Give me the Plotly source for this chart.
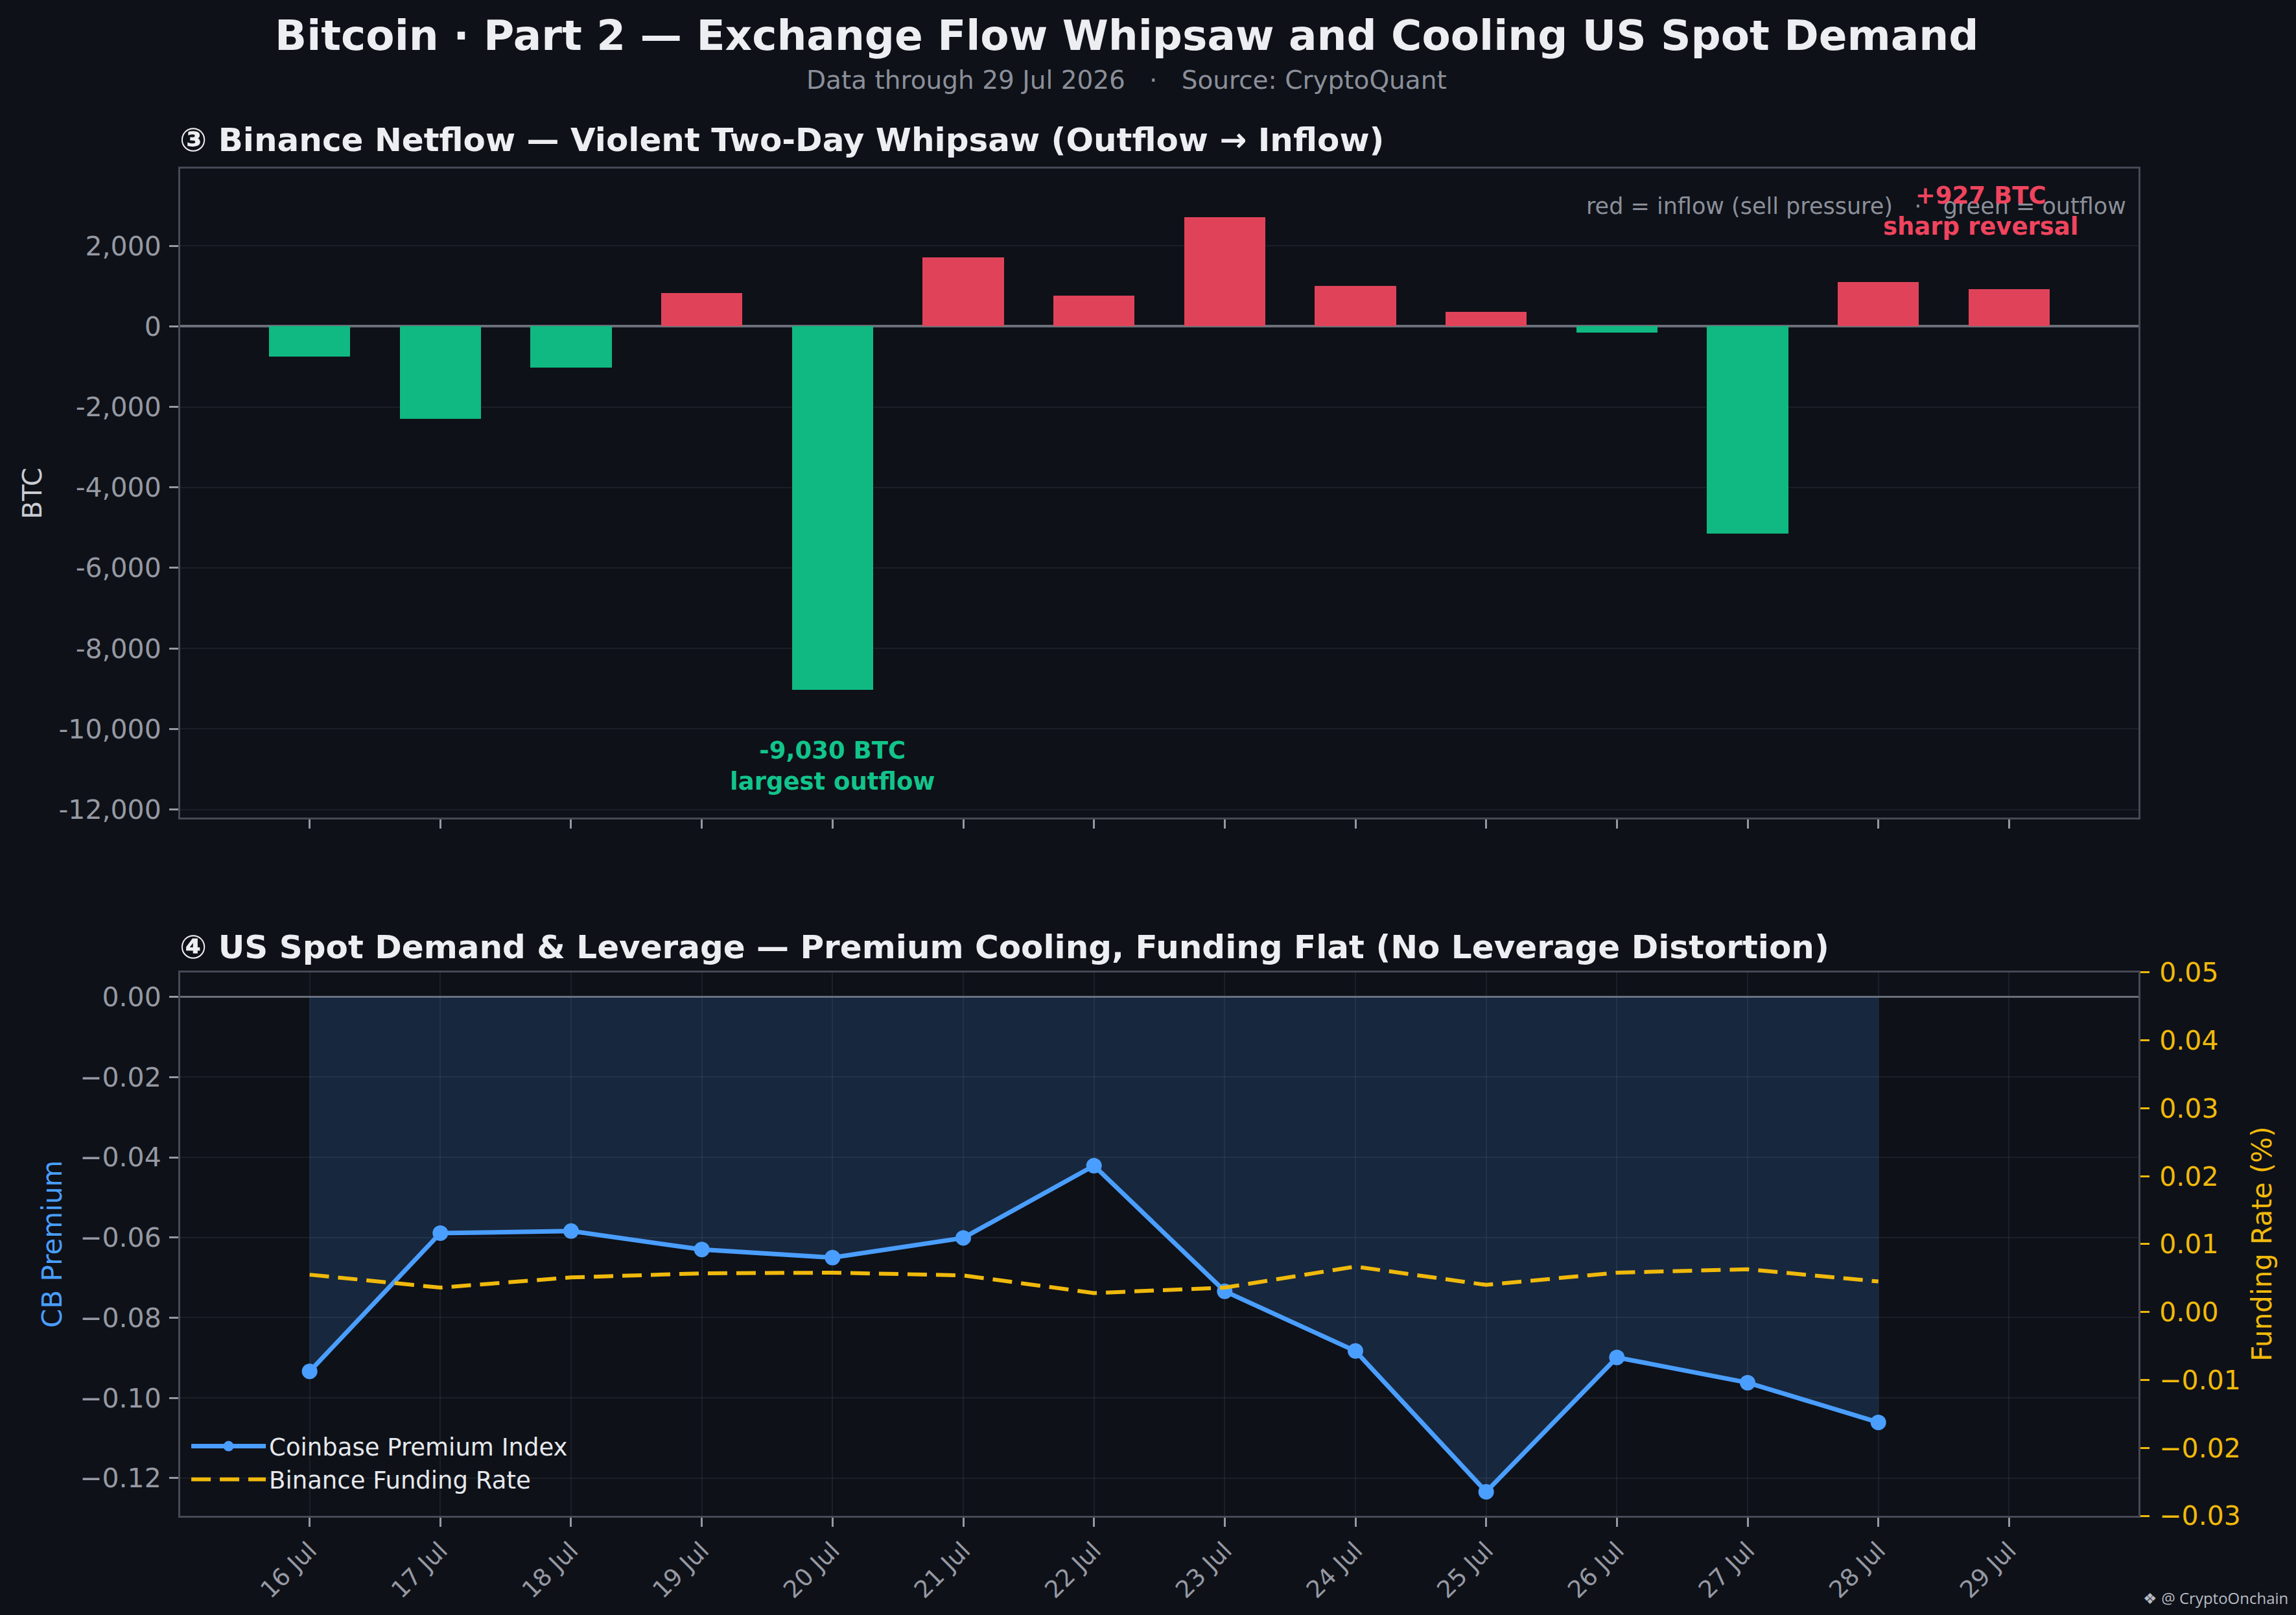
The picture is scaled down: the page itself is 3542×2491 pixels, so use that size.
import plotly.graph_objects as go
from plotly.subplots import make_subplots

# --- data ---
dates = ["16 Jul", "17 Jul", "18 Jul", "19 Jul", "20 Jul", "21 Jul", "22 Jul",
         "23 Jul", "24 Jul", "25 Jul", "26 Jul", "27 Jul", "28 Jul", "29 Jul"]
netflow_btc = [-750, -2290, -1030, 830, -9030, 1710, 760,
               2710, 1005, 360, -150, -5150, 1105, 927]

premium_dates = dates[:13]
cb_premium = [-0.0934, -0.0589, -0.0584, -0.0630, -0.0650, -0.0601, -0.0421,
              -0.0734, -0.0883, -0.1234, -0.0899, -0.0962, -0.1061]
funding_rate = [0.0055, 0.0036, 0.0051, 0.0057, 0.0058, 0.0054, 0.0028,
                0.0036, 0.0067, 0.0040, 0.0058, 0.0063, 0.0045]

netflow_ticks = [2000, 0, -2000, -4000, -6000, -8000, -10000, -12000]
netflow_ticktext = ["2,000", "0", "-2,000", "-4,000", "-6,000", "-8,000", "-10,000", "-12,000"]

BG = "#0e1118"
RED = "#e04359"
GREEN = "#10b981"
BLUE = "#4a9eff"
GOLD = "#f0b90b"
GRID = "rgba(54,58,70,0.35)"
SPINE = "#474a55"
TICK = "#9699a3"
FONT = "DejaVu Sans"

fig = make_subplots(rows=2, cols=1, shared_xaxes=True,
                    specs=[[{}], [{"secondary_y": True}]])

bar_colors = [RED if v > 0 else GREEN for v in netflow_btc]
fig.add_trace(go.Bar(x=dates, y=netflow_btc, marker_color=bar_colors,
                     marker_line_width=0, width=0.62, showlegend=False),
              row=1, col=1)

# shaded area between premium and zero
fig.add_trace(go.Scatter(x=premium_dates, y=cb_premium, fill="tozeroy",
                         fillcolor="rgba(74,158,255,0.16)", mode="none",
                         showlegend=False, hoverinfo="skip"),
              row=2, col=1, secondary_y=False)
fig.add_trace(go.Scatter(x=premium_dates, y=cb_premium, mode="lines+markers",
                         name="Coinbase Premium Index",
                         line=dict(color=BLUE, width=7),
                         marker=dict(color=BLUE, size=24)),
              row=2, col=1, secondary_y=False)
fig.add_trace(go.Scatter(x=premium_dates, y=funding_rate, mode="lines",
                         name="Binance Funding Rate",
                         line=dict(color=GOLD, width=6, dash="30px,14px")),
              row=2, col=1, secondary_y=True)

axis_common = dict(showline=True, linecolor=SPINE, linewidth=3, mirror=True,
                   ticks="outside", ticklen=14, tickwidth=3, tickcolor=TICK,
                   tickfont=dict(family=FONT, size=41, color=TICK))

fig.update_xaxes(range=[-0.99, 13.99], categoryorder="array", categoryarray=dates,
                 **axis_common)
fig.update_xaxes(showgrid=False, row=1, col=1)
fig.update_xaxes(showgrid=True, gridcolor=GRID, gridwidth=2, tickangle=-45,
                 tickfont=dict(family=FONT, size=37, color=TICK), row=2, col=1)

fig.update_layout(
    width=3542, height=2491,
    paper_bgcolor=BG, plot_bgcolor=BG,
    margin=dict(l=278, r=243, t=260, b=153),
    font=dict(family=FONT, color="#e6e8ec"),
    bargap=0,
    xaxis=dict(domain=[0, 1]),
    xaxis2=dict(domain=[0, 1]),
    yaxis=dict(domain=[0.5183, 1], range=[-12200, 3920],
               tickvals=netflow_ticks, ticktext=netflow_ticktext,
               showgrid=True, gridcolor=GRID, gridwidth=2,
               zeroline=True, zerolinecolor="#6b6f7a", zerolinewidth=4,
               ticklabelstandoff=4, **axis_common),
    yaxis2=dict(domain=[0, 0.4033], range=[-0.1294, 0.0061],
                tickvals=[0, -0.02, -0.04, -0.06, -0.08, -0.10, -0.12],
                tickformat=".2f", showgrid=True, gridcolor=GRID, gridwidth=2,
                zeroline=True, zerolinecolor="#6b6f7a", zerolinewidth=3,
                ticklabelstandoff=4, **axis_common),
    yaxis3=dict(domain=[0, 0.4033], range=[-0.03, 0.05], dtick=0.01,
                tickformat=".2f", showgrid=False, zeroline=False,
                showline=True, linecolor=SPINE, linewidth=3,
                ticks="outside", ticklen=14, tickwidth=3, tickcolor=GOLD,
                tickfont=dict(family=FONT, size=41, color=GOLD),
                ticklabelstandoff=7),
    legend=dict(x=0.004, y=0.012, xanchor="left", yanchor="bottom",
                bgcolor="rgba(0,0,0,0)", font=dict(family=FONT, size=37, color="#e6e8ec"),
                itemwidth=115, tracegroupgap=6),
)

annotations = [
    dict(text="<b>Bitcoin · Part 2 — Exchange Flow Whipsaw and Cooling US Spot Demand</b>",
         xref="paper", yref="paper", x=0.4833, y=1.0987, xanchor="center", yanchor="middle",
         font=dict(family=FONT, size=64.5, color="#eceef2")),
    dict(text="Data through 29 Jul 2026\u00a0\u00a0 · \u00a0\u00a0Source: CryptoQuant",
         xref="paper", yref="paper", x=0.4833, y=1.0659, xanchor="center", yanchor="middle",
         font=dict(family=FONT, size=39, color="#8b8f99")),
    dict(text="<b>③ Binance Netflow — Violent Two-Day Whipsaw (Outflow → Inflow)</b>",
         xref="paper", yref="paper", x=-0.001, y=1.0212, xanchor="left", yanchor="middle",
         font=dict(family=FONT, size=50, color="#eceef2")),
    dict(text="<b>④ US Spot Demand & Leverage — Premium Cooling, Funding Flat (No Leverage Distortion)</b>",
         xref="paper", yref="paper", x=-0.001, y=0.4220, xanchor="left", yanchor="middle",
         font=dict(family=FONT, size=50, color="#eceef2")),
    dict(text="BTC", xref="paper", yref="paper", x=-0.0755, y=0.759, textangle=-90,
         xanchor="center", yanchor="middle", font=dict(family=FONT, size=41, color="#c9ccd3")),
    dict(text="CB Premium", xref="paper", yref="paper", x=-0.0652, y=0.2017, textangle=-90,
         xanchor="center", yanchor="middle", font=dict(family=FONT, size=42, color=BLUE)),
    dict(text="Funding Rate (%)", xref="paper", yref="paper", x=1.0632, y=0.2017, textangle=-90,
         xanchor="center", yanchor="middle", font=dict(family=FONT, size=42, color=GOLD)),
    dict(text="red = inflow (sell pressure)\u00a0\u00a0 · \u00a0\u00a0green = outflow",
         xref="x domain", yref="y domain", x=0.9944, y=0.942, xanchor="right", yanchor="middle",
         font=dict(family=FONT, size=35, color="#8b8f99")),
    dict(text="<b>+927 BTC<br>sharp reversal</b>", xref="x", yref="y",
         x=dates[13], y=2866, xshift=-44, xanchor="center", yanchor="middle",
         font=dict(family=FONT, size=37, color="#f0445e")),
    dict(text="<b>-9,030 BTC<br>largest outflow</b>", xref="x", yref="y",
         x=dates[4], y=-10920, xanchor="center", yanchor="middle",
         font=dict(family=FONT, size=37, color="#12c48b")),
    dict(text="❖ @ CryptoOnchain", xref="paper", yref="paper", x=1.0771, y=-0.0611,
         xanchor="right", yanchor="middle",
         font=dict(family="Open Sans", size=24, color="#b8bcc4")),
]
for a in annotations:
    a["showarrow"] = False
    fig.add_annotation(**a)

fig.write_html("out.html", config={"displayModeBar": False},
               post_script="document.body.style.margin='0px';"
                           "document.body.style.background='#0e1118';")
